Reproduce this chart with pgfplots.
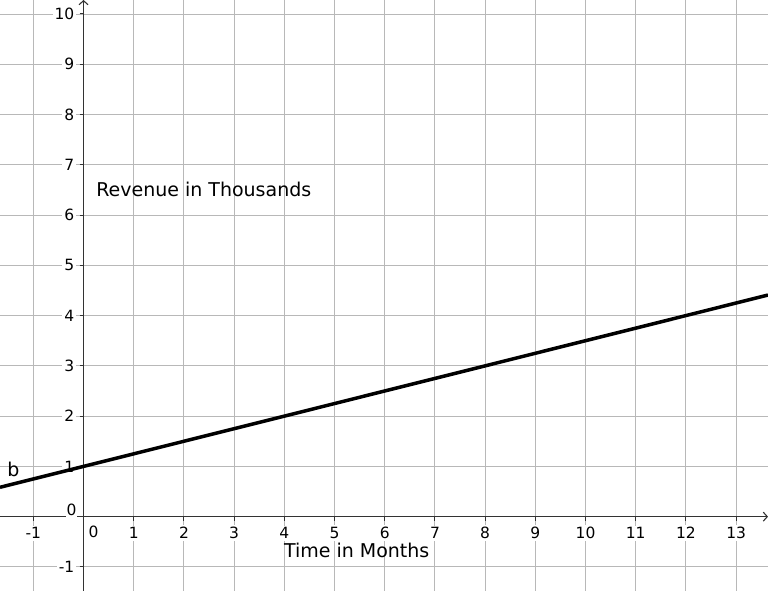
\documentclass[border=0pt]{standalone}
\usepackage{fontspec}
\setmainfont{DejaVu Sans}
\usepackage{pgfplots}
\pgfplotsset{compat=1.18}
\usetikzlibrary{arrows.meta}
\begin{document}
\begin{tikzpicture}
\begin{axis}[
    x=50.2bp, y=50.27bp,
    xmin=-1.664, xmax=13.635,
    ymin=-1.478, ymax=10.278,
    axis lines=middle,
    axis line style={draw=black!80, line width=1.1bp, -{Straight Barb[length=4bp,width=9bp]}},
    grid=major,
    grid style={draw=black!28, line width=0.9bp},
    xtick={-1,1,2,...,13},
    ytick={-1,1,2,...,10},
    tick style={draw=black!80, line width=1bp},
    tick align=outside,
    major tick length=4bp,
    /pgf/number format/assume math mode=true,
    tick label style={font=\fontsize{15.5bp}{18bp}\selectfont, fill=white, inner sep=2bp},
    xticklabel style={anchor=center, yshift=-12.5bp},
    yticklabel style={anchor=east, xshift=-3bp},
]
\coordinate (sw) at (rel axis cs:0,0);
\coordinate (ne) at (rel axis cs:1,1);

% revenue line
\addplot[black, line width=3.5bp] coordinates {
    (-1.664, 0.584)
    (13.635, 4.40875)
};

% the two zeros
\node[fill=white, inner sep=2bp, font=\fontsize{15.5bp}{18bp}\selectfont] at (axis cs:0.2,-0.31) {0};
\node[fill=white, inner sep=1bp, font=\fontsize{15.5bp}{18bp}\selectfont] at (axis cs:-0.24,0.13) {0};

\node[anchor=base west, inner sep=0, font=\fontsize{19bp}{22bp}\selectfont] at (axis cs:0.25,6.36) {Revenue in Thousands};
\node[anchor=base west, inner sep=0, font=\fontsize{19bp}{22bp}\selectfont] at (axis cs:3.99,-0.81) {Time in Months};
\node[anchor=base west, inner sep=0, font=\fontsize{19bp}{22bp}\selectfont] at (axis cs:-1.52,0.80) {b};
\end{axis}
\pgfresetboundingbox
\useasboundingbox (sw) rectangle (ne);
\end{tikzpicture}
\end{document}
